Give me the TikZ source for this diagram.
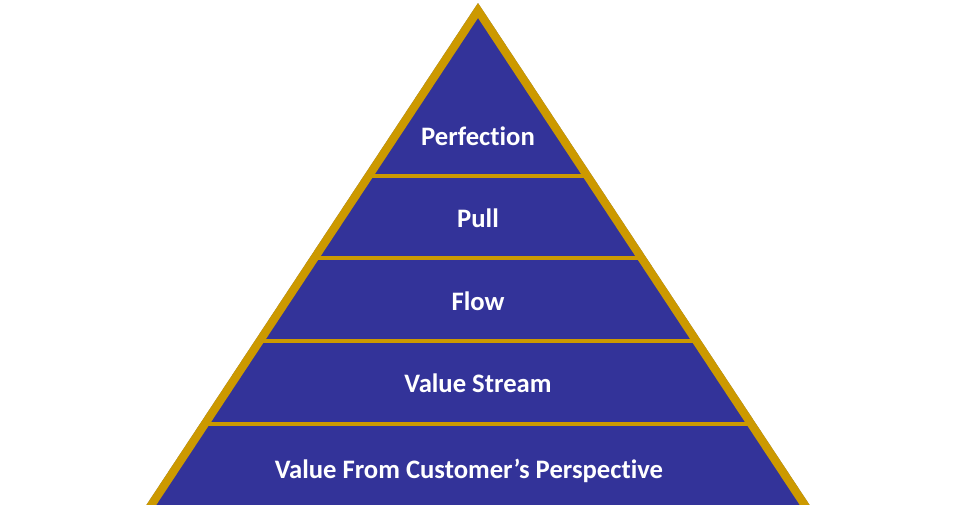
\documentclass[tikz,border=0pt]{standalone}
\usepackage{fontspec}
\setmainfont{Carlito}[Ligatures={TeX,NoCommon,NoDiscretionary,NoRare}]
\usetikzlibrary{calc}
\definecolor{pyrblue}{HTML}{333399}
\definecolor{pyrgold}{HTML}{CC9900}
\definecolor{pyrshadow}{HTML}{858585}
\tikzset{
  edge/.style={draw=pyrgold, line width=6.2pt, line join=miter},
  shadowedge/.style={draw=pyrshadow, line width=6.2pt, line join=miter},
  divider/.style={draw=pyrgold, line width=3pt},
  label/.style={text=white, font=\fontsize{20}{24}\selectfont\bfseries, anchor=center}
}
\begin{document}
\begin{tikzpicture}[x=0.75pt,y=-0.75pt]
\useasboundingbox (0,0) rectangle (960,504);
\clip (0,0) rectangle (960,504);
\coordinate (A) at (478,10.5);
\coordinate (L) at (141.4,520);
\coordinate (R) at (814.6,520);
% shadow
\draw[shadowedge, shift={(2.5,2)}] (L) -- (A) -- (R);
% fill
\fill[pyrblue] (L) -- (A) -- (R) -- cycle;
% dividers
\foreach \t [count=\i] in {0.3248,0.4858,0.6487,0.8116} {
  \coordinate (dl\i) at ($(A)!\t!(L)$);
  \coordinate (dr\i) at ($(A)!\t!(R)$);
  \draw[divider] (dl\i) -- (dr\i);
}
% border
\draw[edge] (L) -- (A) -- (R);
% labels
\node[label] (perf) at (478,136) {Perfection};
\node[label] (pull) at (478,218) {Pull};
\node[label] (flow) at (478,301) {Flow};
\node[label] (vs) at (478,383) {Value Stream};
\node[label] (vfcp) at (469,471) {Value From Customer’s Perspective};
\end{tikzpicture}
\end{document}
